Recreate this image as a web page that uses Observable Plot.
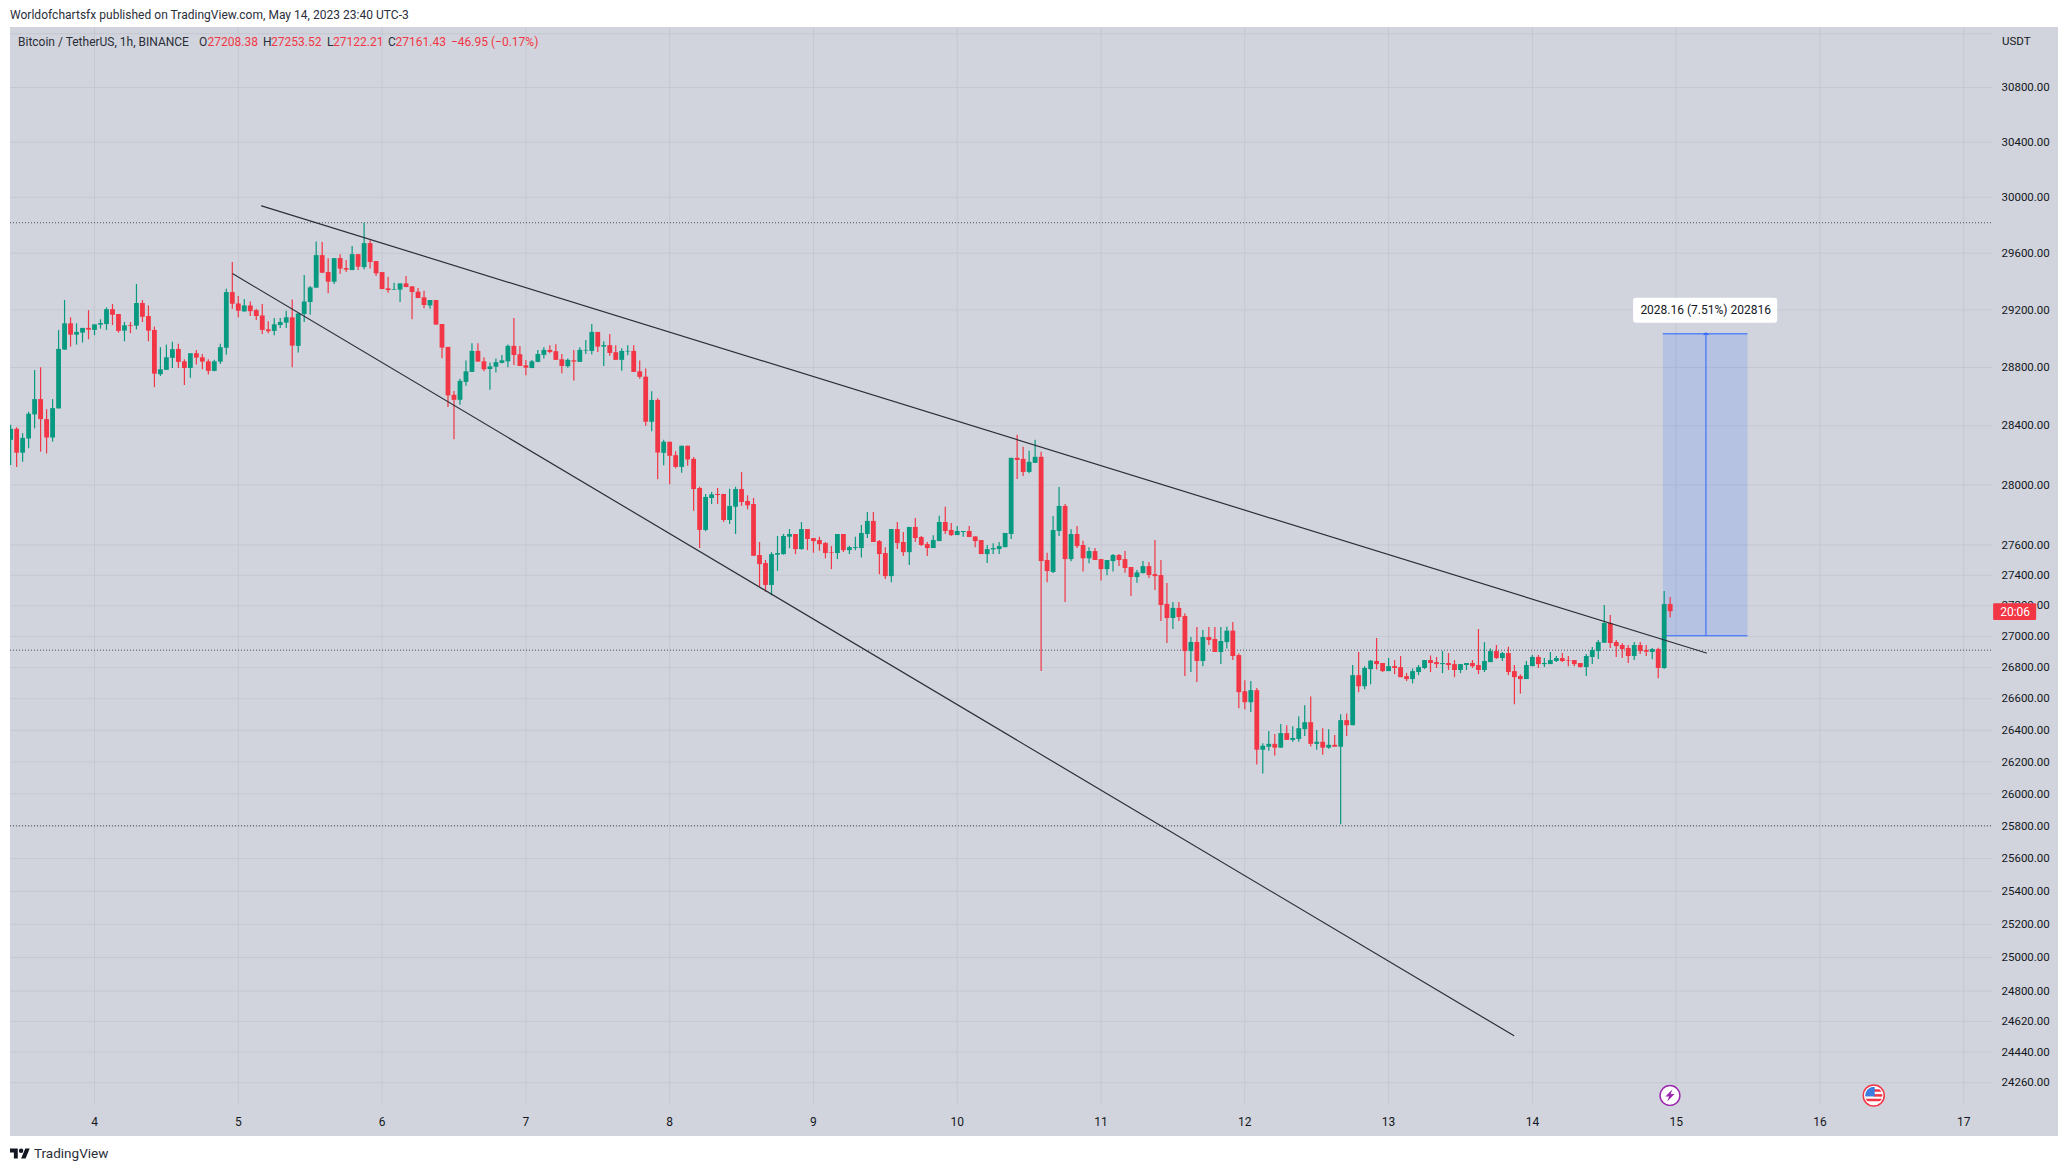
<!DOCTYPE html>
<html>
<head>
<meta charset="utf-8">
<script src="https://cdn.jsdelivr.net/npm/d3@7"></script>
<script src="https://cdn.jsdelivr.net/npm/@observablehq/plot@0.6"></script>
<style>
  html,body{margin:0;padding:0;background:#fff;width:2068px;height:1168px;overflow:hidden;font-family:Roboto,"Open Sans",sans-serif;color:#131722}
  #title{position:absolute;left:10px;top:7px;font-size:12px;line-height:16px;letter-spacing:.02px;white-space:nowrap;color:#2a2e39}
  #chart{position:absolute;left:10px;top:27px}
  #legend span{position:absolute;top:34px;font-size:12px;line-height:16px;white-space:nowrap}
  #foot{position:absolute;left:10px;top:1144px;height:18px;display:flex;align-items:center;gap:4px;font-size:13.5px;color:#2a2e39}
</style>
</head>
<body>
<div id="title">Worldofchartsfx published on TradingView.com, May 14, 2023 23:40 UTC-3</div>
<div id="chart"></div>
<div id="legend"></div>
<div id="foot">
  <svg width="20" height="11" viewBox="0 4 36 18"><path fill="#131722" d="M14 22H7V11H0V4h14v18zM28 22h-8l7.5-18h8L28 22z"/><circle fill="#131722" cx="20" cy="8" r="4"/></svg>
  <span>TradingView</span>
</div>
<script>
const dayTicks = [4,5,6,7,8,9,10,11,12,13,14,15,16,17];
const priceTicks = [30800,30400,30000,29600,29200,28800,28400,28000,27600,27400,27200,27000,26800,26600,26400,26200,26000,25800,25600,25400,25200,25000,24800,24620,24440,24260];
const firstBarHour = -14;

const opens = [
28301,28376,28214,28310,28474,28579,28442,28317,28515,28920,29103,29024,29038,29071,
29057,29094,29098,29202,29168,29052,29089,29087,29245,29154,
29057,28750,28780,28863,28925,28839,28793,28895,28867,28839,
28773,28837,28933,29322,29242,29186,29228,29195,29158,29061,
29050,29091,29108,29145,28946,29168,29252,29353,29583,29463,
29395,29562,29491,
29477,29590,29498,29668,29541,29463,29348,29339,29339,29383,
29362,29325,29285,29228,29266,29098,28939,28608,28574,28697,
28766,28911,28839,28786,28802,28828,28839,28946,28888,28811,
28793,28835,28884,28918,28909,28853,28805,28846,28835,28914,
28911,29043,28941,28951,28902,28849,28907,28911,28770,
28733,28424,28573,28213,28288,28197,28118,28261,28172,27976,
27696,27909,27936,27936,27762,27851,27969,27889,27869,27530,
27477,27333,27532,27536,27651,27669,27569,27702,27642,27629,
27609,27549,27543,27669,27562,27576,27576,27669,27756,27622,
27543,27391,27702,27616,27549,27716,27649,27602,27576,27622,
27749,27696,27662,27682,27689,27653,27629,27536,
27567,27569,27582,27669,28179,28172,28084,28145,28186,27497,
27418,27689,27856,27503,27669,27596,27508,27556,27503,27437,
27490,27530,27503,27451,27385,27411,27457,27404,27398,27209,
27117,27183,27130,26903,26962,26839,26994,26981,26897,26961,
27035,26877,26645,26575,26652,26274,26293,26311,26287,26379,
26336,26342,26404,26448,26311,26324,26287,26305,26293,26461,
26429,26748,26677,26787,26839,26826,26774,26806,26800,26742,
26723,26768,26794,26845,26832,26819,26826,26819,26781,26813,
26826,26813,26781,26832,26903,26858,26890,26774,26742,26723,
26806,26865,26819,26819,26839,26858,26845,26845,26826,26800,
26865,26903,26957,27085,26961,26942,26923,26871,26942,26910,
26897,26916,26794,27208.38];

const highs = [
28403,28387,28346,28492,28779,28798,28510,28579,29057,29266,29145,29103,29071,29195,
29096,29131,29214,29238,29168,29112,29112,29379,29266,29228,
29080,28937,28955,28974,28960,28853,28895,28918,28890,28853,
28849,28960,29346,29534,29294,29273,29256,29205,29238,29117,
29140,29140,29191,29270,29172,29442,29365,29679,29677,29560,
29562,29590,29548,
29647,29590,29813,29689,29541,29463,29430,29388,29383,29435,
29365,29350,29332,29266,29266,29098,28939,28634,28718,28844,
28964,28964,28867,28830,28858,28883,28955,29140,28946,28848,
28848,28918,28937,28951,28957,28890,28858,28918,28937,28987,
29098,29043,28978,29029,28951,28930,28951,28951,28844,
28790,28632,28584,28301,28288,28224,28261,28261,28184,27984,
27936,27949,27976,27936,27971,27984,28084,27927,27909,27616,
27497,27549,27656,27669,27702,27669,27749,27702,27642,27651,
27616,27589,27669,27669,27589,27651,27729,27816,27816,27629,
27582,27702,27749,27682,27716,27776,27656,27616,27660,27791,
27851,27742,27722,27689,27722,27653,27629,27596,
27607,27616,27676,28179,28335,28254,28227,28301,28220,27545,
27789,27982,27869,27700,27722,27624,27582,27576,27503,27497,
27536,27536,27556,27451,27431,27490,27484,27629,27497,27346,
27222,27222,27148,26994,27059,27039,27059,27059,27059,27061,
27091,26888,26716,26710,26665,26315,26392,26373,26436,26429,
26423,26486,26556,26612,26398,26410,26404,26367,26499,26503,
26813,26897,26806,26845,26987,26826,26858,26845,26871,26763,
26791,26813,26845,26875,26865,26903,26890,26845,26819,26826,
26845,27046,26961,26920,26942,26897,26931,26813,26753,26839,
26877,26877,26858,26897,26871,26890,26871,26845,26826,26884,
26929,26974,27202,27137,26974,26953,26942,26961,26961,26942,
26923,26925,27293,27253.52];

const lows = [
28130,28118,28152,28244,28380,28221,28209,28289,28515,28920,28941,28955,28969,28992,
29020,29066,29057,29091,29038,28978,29034,29061,29112,28978,
28661,28738,28780,28793,28793,28675,28725,28817,28784,28748,
28770,28821,28885,29205,29145,29186,29154,29126,29029,29034,
29020,29071,29071,28798,28900,29112,29163,29353,29458,29313,
29379,29449,29463,
29477,29477,29482,29489,29435,29343,29318,29336,29252,29357,
29131,29280,29209,29205,29094,28860,28524,28305,28540,28670,
28766,28837,28770,28643,28761,28825,28798,28814,28807,28743,
28791,28832,28858,28895,28849,28757,28795,28707,28835,28890,
28886,28904,28807,28877,28849,28773,28881,28766,28718,
28397,28360,28034,28129,28002,28109,28079,28125,27824,27576,
27687,27869,27869,27749,27736,27669,27856,27833,27525,27322,
27289,27265,27426,27532,27574,27536,27565,27562,27545,27558,
27508,27437,27503,27549,27536,27562,27514,27642,27616,27404,
27372,27350,27569,27523,27464,27616,27589,27523,27576,27622,
27669,27656,27662,27651,27649,27582,27536,27477,
27536,27536,27582,27636,28036,28057,28075,28145,26774,27350,
27411,27656,27222,27488,27576,27422,27475,27497,27363,27396,
27422,27457,27413,27261,27348,27409,27378,27300,27098,26955,
27046,27098,26742,26768,26704,26806,26942,26897,26819,26920,
26845,26537,26531,26512,26181,26125,26268,26237,26287,26336,
26324,26324,26361,26295,26274,26243,26280,26293,25808,26361,
26429,26639,26658,26690,26785,26768,26774,26755,26735,26710,
26695,26748,26787,26768,26794,26761,26781,26735,26761,26781,
26794,26755,26768,26832,26852,26839,26748,26562,26630,26723,
26806,26794,26800,26819,26832,26832,26806,26806,26798,26742,
26819,26852,26957,26923,26865,26858,26826,26845,26884,26871,
26850,26729,26787,27122.21];

const closes = [
28376,28214,28314,28479,28579,28442,28317,28517,28925,29103,29024,29043,29071,29059,
29096,29105,29202,29163,29050,29089,29084,29245,29149,29052,
28754,28784,28867,28923,28835,28793,28895,28865,28837,28773,
28839,28937,29322,29240,29191,29228,29188,29154,29057,29048,
29096,29112,29145,28948,29172,29256,29355,29583,29458,29395,
29562,29487,29480,
29590,29501,29668,29534,29454,29343,29336,29343,29383,29357,
29322,29280,29231,29266,29094,28934,28604,28574,28704,28770,
28911,28837,28784,28804,28833,28846,28946,28883,28807,28795,
28839,28890,28918,28904,28849,28807,28849,28837,28918,28918,
29043,28941,28951,28897,28849,28911,28911,28766,28732,
28424,28573,28215,28288,28193,28118,28261,28168,27969,27696,
27916,27933,27929,27762,27856,27969,27882,27860,27525,27470,
27333,27536,27543,27656,27669,27569,27702,27636,27622,27602,
27543,27545,27669,27562,27582,27582,27676,27756,27616,27536,
27391,27702,27609,27549,27716,27642,27596,27576,27629,27749,
27689,27662,27689,27689,27649,27622,27536,27569,
27576,27589,27676,28179,28165,28084,28152,28186,27490,27424,
27696,27856,27503,27669,27589,27508,27556,27497,27437,27497,
27530,27497,27444,27385,27415,27457,27398,27391,27202,27117,
27183,27124,26903,26962,26839,26994,26974,26897,26968,27035,
26871,26639,26575,26652,26274,26299,26311,26287,26379,26336,
26348,26410,26448,26311,26324,26287,26305,26293,26461,26429,
26748,26677,26794,26841,26819,26774,26806,26794,26735,26723,
26774,26800,26845,26826,26819,26826,26813,26781,26819,26826,
26806,26781,26839,26903,26858,26890,26768,26735,26723,26813,
26865,26819,26826,26845,26858,26839,26841,26819,26800,26871,
26910,26961,27085,26955,26935,26916,26871,26942,26903,26899,
26916,26794,27208,27161.43];

const levels = [29817, 26912, 25802];
const upperTrend = [{d:5.1616,p:29938},{d:15.2103,p:26894}];
const lowerTrend = [{d:4.962,p:29454},{d:13.87,p:24536}];
const measure = {d1:14.911,d2:15.4995,dMid:15.207,from:27005,to:29033.16};
const measureLabel = {text:"2028.16 (7.51%) 202816",d1:14.704,d2:15.706,dMid:15.205,p1:29107,p2:29282,pMid:29194};
const priceTag = {text:"20:06",d1:17.208,d2:17.507,dMid:17.357,p1:27104,p2:27214,pMid:27161.43};
const iconY = 24186;
const iconDays = {bolt:14.957, flag:16.374};

const UP = "#089981", DOWN = "#F23645", GRID = "#c5c8d1", INK = "#131722", BLUE = "#2962FF";

const bars = opens.map((o,i)=>({
  day: 4 + (firstBarHour + i)/24,
  o, h: highs[i], l: lows[i], c: closes[i],
  col: closes[i] >= o ? UP : DOWN
}));

const boltIcon = "data:image/svg+xml," + encodeURIComponent(`<svg xmlns="http://www.w3.org/2000/svg" viewBox="0 0 24 24"><circle cx="12" cy="12" r="10.8" fill="#fff" stroke="#9C27B0" stroke-width="1.6"/><path fill="#9C27B0" d="M14.5 5.5 7 13.2h4L9 18.5l8-8h-4.2z"/></svg>`);
const flagIcon = "data:image/svg+xml," + encodeURIComponent(`<svg xmlns="http://www.w3.org/2000/svg" viewBox="0 0 24 24"><defs><clipPath id="c"><circle cx="12" cy="12" r="9"/></clipPath></defs><circle cx="12" cy="12" r="11" fill="#fff" stroke="#F23645" stroke-width="1.6"/><g clip-path="url(#c)"><rect x="3" y="3" width="18" height="18" fill="#fff"/><rect x="12" y="5.5" width="10" height="2.6" fill="#F23645"/><rect x="12" y="10.6" width="10" height="2.6" fill="#F23645"/><rect x="3" y="15.4" width="18" height="2.6" fill="#F23645"/><rect x="3" y="3" width="10" height="10" fill="#3F7CE0"/></g></svg>`);

const chart = Plot.plot({
  width: 2048, height: 1109,
  marginLeft: 0, marginRight: 66, marginTop: 0, marginBottom: 31,
  style: {background:"#D1D4DC", fontFamily:"Roboto, 'Open Sans', sans-serif", fontSize:"11.5px", color:INK},
  x: {domain:[3.4157,17.2]},
  y: {type:"log", domain:[24128,31246.5]},
  marks: [
    Plot.gridX(dayTicks,{stroke:GRID,strokeOpacity:1}),
    Plot.gridY([31200,...priceTicks],{stroke:GRID,strokeOpacity:1}),
    Plot.ruleY(levels,{stroke:"#4a4e59",strokeWidth:1,strokeDasharray:"1 2"}),
    Plot.rect([measure],{x1:"d1",x2:"d2",y1:"from",y2:"to",fill:BLUE,fillOpacity:.16}),
    Plot.ruleY([measure],{y:"from",x1:"d1",x2:"d2",stroke:BLUE,strokeWidth:1}),
    Plot.ruleY([measure],{y:"to",x1:"d1",x2:"d2",stroke:BLUE,strokeWidth:1}),
    Plot.link([measure],{x:"dMid",y1:"from",y2:"to",stroke:BLUE,strokeWidth:1,markerEnd:"arrow"}),
    Plot.ruleX(bars,{x:"day",y1:"l",y2:"h",stroke:"col",strokeWidth:1.2}),
    Plot.ruleX(bars,{x:"day",y1:"o",y2:"c",stroke:"col",strokeWidth:4.8}),
    Plot.line(upperTrend,{x:"d",y:"p",stroke:"#2a2e39",strokeWidth:1.2}),
    Plot.line(lowerTrend,{x:"d",y:"p",stroke:"#2a2e39",strokeWidth:1.2}),
    Plot.rect([measureLabel],{x1:"d1",x2:"d2",y1:"p1",y2:"p2",fill:"#fff",rx:3,style:{filter:"drop-shadow(0 1px 2px rgba(0,0,0,.2))"}}),
    Plot.text([measureLabel],{x:"dMid",y:"pMid",dy:-1,text:"text",fill:INK,fontSize:12}),
    Plot.axisX(dayTicks,{anchor:"bottom",tickSize:0,tickPadding:12,tickFormat:d=>String(d),fill:INK,fontSize:12,label:null}),
    Plot.axisY(priceTicks,{anchor:"right",tickSize:0,tickPadding:9,tickFormat:d=>d.toFixed(2),fill:INK,fontSize:11.5,label:null}),
    Plot.text(["USDT"],{frameAnchor:"top-right",dx:38,dy:9,fill:INK,fontSize:11.5}),
    Plot.rect([priceTag],{x1:"d1",x2:"d2",y1:"p1",y2:"p2",fill:DOWN,rx:1}),
    Plot.text([priceTag],{x:"dMid",y:"pMid",text:"text",fill:"#fff",fontSize:12}),
    Plot.image([iconDays],{x:"bolt",y:()=>iconY,src:()=>boltIcon,width:22,height:22}),
    Plot.image([iconDays],{x:"flag",y:()=>iconY,src:()=>flagIcon,width:23,height:23})
  ]
});
document.getElementById("chart").append(chart);

const legendItems = [
  {t:"Bitcoin / TetherUS, 1h, BINANCE",left:18,col:"#2a2e39"},
  {t:"O",left:199,col:"#2a2e39"},{t:"27208.38",left:207.5,col:DOWN},
  {t:"H",left:263,col:"#2a2e39"},{t:"27253.52",left:271,col:DOWN},
  {t:"L",left:327,col:"#2a2e39"},{t:"27122.21",left:333,col:DOWN},
  {t:"C",left:388,col:"#2a2e39"},{t:"27161.43",left:395.5,col:DOWN},
  {t:"−46.95 (−0.17%)",left:451,col:DOWN}
];
const legend = document.getElementById("legend");
for (const it of legendItems){
  const s = document.createElement("span");
  s.textContent = it.t; s.style.left = it.left+"px"; s.style.color = it.col;
  legend.append(s);
}
</script>
</body>
</html>
